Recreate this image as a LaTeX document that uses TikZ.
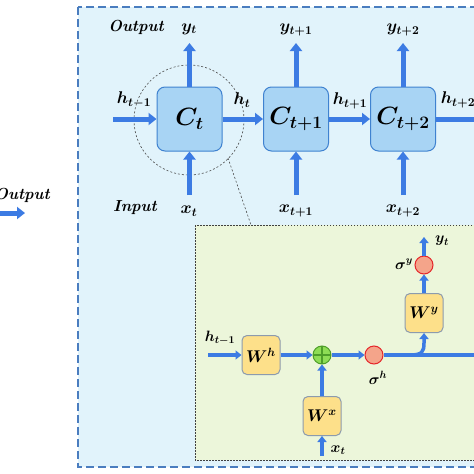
\RequirePackage{fix-cm}
\documentclass[tikz,border=0pt]{standalone}
\usepackage{amsmath,bm}
\usetikzlibrary{arrows.meta}
\definecolor{bgblue}{HTML}{E1F3FB}
\definecolor{dashblue}{HTML}{4A7DBF}
\definecolor{arrblue}{HTML}{3C7BE3}
\definecolor{cellfill}{HTML}{A8D4F4}
\definecolor{celledge}{HTML}{3F82D0}
\definecolor{greenbg}{HTML}{ECF6DA}
\definecolor{wfill}{HTML}{FDE08A}
\definecolor{wedge}{HTML}{8C9BAE}
\definecolor{plusfill}{HTML}{8EDD55}
\definecolor{plusedge}{HTML}{4E9E2A}
\definecolor{sigfill}{HTML}{F4A48A}
\definecolor{sigedge}{HTML}{E5262A}
\begin{document}
\begin{tikzpicture}[x=1pt,y=-1pt,
  bigarrow/.style={draw=arrblue, line width=5pt, -{Triangle[width=12pt,length=8pt]}},
  bigline/.style={draw=arrblue, line width=5pt},
  smallarrow/.style={draw=arrblue, line width=3.5pt, -{Triangle[width=9pt,length=6pt]}},
  smallline/.style={draw=arrblue, line width=3.5pt},
  cell/.style={draw=celledge, fill=cellfill, line width=1pt, rounded corners=8pt, minimum width=65pt, minimum height=64pt, inner sep=0pt, font=\fontsize{25}{27}\selectfont},
  wbox/.style={draw=wedge, fill=wfill, line width=1pt, rounded corners=5pt, minimum width=38pt, minimum height=39pt, inner sep=0pt, font=\fontsize{17}{19}\selectfont},
  plusnode/.style={circle, draw=plusedge, fill=plusfill, line width=1pt, minimum size=18pt, inner sep=0pt},
  signode/.style={circle, draw=sigedge, fill=sigfill, line width=1pt, minimum size=18pt, inner sep=0pt},
  biglabel/.style={font=\fontsize{17}{19}\selectfont, inner sep=0pt},
  smalllabel/.style={font=\fontsize{15}{17}\selectfont, inner sep=0pt},
  wordlabel/.style={font=\fontsize{16}{18}\selectfont\bfseries\itshape, inner sep=0pt}
]
\useasboundingbox (0,0) rectangle (474,474);
\clip (0,0) rectangle (474,474);
\fill[white] (0,0) rectangle (474,474);

% left output
\node[wordlabel, anchor=east] (outL) at (50,195) {Output};
\coordinate (outLs) at (-10,213);
\coordinate (outLe) at (25,213);
\draw[bigarrow] (outLs) -- (outLe);

% outer dashed box
\draw[dashblue, dash pattern=on 8pt off 4pt, line width=1.2pt, fill=bgblue] (78,7) rectangle (490,467);

% cells
\node[cell] (C0) at (189.5,119) {$\bm{C_t}$};
\node[cell] (C1) at (296,119) {$\bm{C_{t+1}}$};
\node[cell] (C2) at (403,119) {$\bm{C_{t+2}}$};

% zoom circle
\node[circle, draw=black!70, dash pattern=on 2pt off 2pt, line width=0.6pt, minimum size=110pt, inner sep=0pt] (zc) at (189,120) {};

% top outputs
\coordinate (y0e) at (189.5,43);
\coordinate (y1e) at (296,43);
\coordinate (y2e) at (403,43);
\draw[bigarrow] (C0.north) -- (y0e);
\draw[bigarrow] (C1.north) -- (y1e);
\draw[bigarrow] (C2.north) -- (y2e);
\node[biglabel] (ly0) at (189,29) {$\bm{y_t}$};
\node[biglabel] (ly1) at (296,30) {$\bm{y_{t+1}}$};
\node[biglabel] (ly2) at (403,30) {$\bm{y_{t+2}}$};
\node[wordlabel] (outT) at (136,27) {Output};

% bottom inputs
\coordinate (x0s) at (189.5,195);
\coordinate (x1s) at (296,195);
\coordinate (x2s) at (403,195);
\draw[bigarrow] (x0s) -- (C0.south);
\draw[bigarrow] (x1s) -- (C1.south);
\draw[bigarrow] (x2s) -- (C2.south);
\node[biglabel] (lx0) at (189,211) {$\bm{x_t}$};
\node[biglabel] (lx1) at (296,211) {$\bm{x_{t+1}}$};
\node[biglabel] (lx2) at (403,211) {$\bm{x_{t+2}}$};
\node[wordlabel] (inT) at (135,208) {Input};

% horizontal hidden states
\coordinate (hs) at (113,119);
\coordinate (he) at (490,119);
\draw[bigarrow] (hs) -- (C0.west);
\draw[bigarrow] (C0.east) -- (C1.west);
\draw[bigarrow] (C1.east) -- (C2.west);
\draw[bigline] (C2.east) -- (he);
\node[biglabel] (lh0) at (134,100) {$\bm{h_{t-1}}$};
\node[biglabel] (lh1) at (242,100) {$\bm{h_t}$};
\node[biglabel] (lh2) at (350,101) {$\bm{h_{t+1}}$};
\node[biglabel] (lh3) at (458,100) {$\bm{h_{t+2}}$};

% green detail box
\draw[black!75, dash pattern=on 1.5pt off 1.5pt, line width=0.7pt, fill=greenbg] (195,225) rectangle (490,460);
\coordinate (zl1) at (228,158);
\coordinate (zl2) at (251,225);
\draw[black!70, dash pattern=on 2pt off 2pt, line width=0.6pt] (zl1) -- (zl2);

\node[wbox] (Wh) at (261,355) {$\bm{W^h}$};
\node[plusnode, path picture={\draw[plusedge, line width=1.2pt] (path picture bounding box.west) -- (path picture bounding box.east) (path picture bounding box.north) -- (path picture bounding box.south);}] (P) at (322,355) {};
\node[wbox] (Wx) at (322,416) {$\bm{W^x}$};
\node[signode] (Sh) at (374,355) {};
\node[wbox] (Wy) at (424,313) {$\bm{W^y}$};
\node[signode] (Sy) at (424,265) {};

\coordinate (hin) at (208,355);
\coordinate (xin) at (322,456);
\coordinate (yout) at (424,237);
\coordinate (hout) at (490,355);
\coordinate (br) at (410,355);

\draw[smallarrow] (hin) -- (Wh);
\draw[smallarrow] (Wh) -- (P);
\draw[smallarrow] (xin) -- (Wx);
\draw[smallarrow] (Wx) -- (P);
\draw[smallarrow] (P) -- (Sh);
\draw[smallline] (Sh) -- (hout);
\draw[smallarrow] (br) .. controls (422,355) and (424,352) .. (424,343) -- (Wy.south);
\draw[smallarrow] (Wy) -- (Sy);
\draw[smallarrow] (Sy) -- (yout);

\node[smalllabel] (lhg) at (220,338) {$\bm{h_{t-1}}$};
\node[smalllabel] (lxg) at (338,450) {$\bm{x_t}$};
\node[smalllabel] (lsh) at (378,378) {$\bm{\sigma^h}$};
\node[smalllabel] (lsy) at (404,264) {$\bm{\sigma^y}$};
\node[smalllabel] (lyg) at (442,241) {$\bm{y_t}$};
\end{tikzpicture}
\end{document}
